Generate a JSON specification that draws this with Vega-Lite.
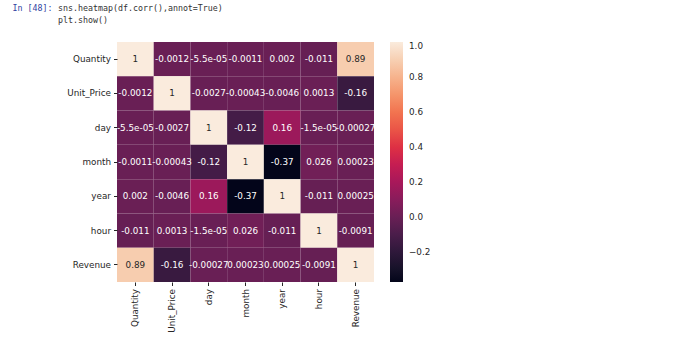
{
  "$schema": "https://vega.github.io/schema/vega-lite/v6.json",
  "autosize": "none",
  "width": 257,
  "height": 240,
  "padding": {"left": 117, "top": 42, "right": 306, "bottom": 57},
  "background": "white",
  "title": {
    "text": ["sns.heatmap(df.corr(),annot=True)", "plt.show()"],
    "anchor": "start",
    "frame": "group",
    "dx": -59,
    "dy": 21,
    "offset": 0,
    "font": "DejaVu Sans Mono",
    "fontSize": 8.3,
    "fontWeight": "normal",
    "color": "#333333",
    "lineHeight": 12
  },
  "config": {
    "view": {"stroke": null},
    "font": "DejaVu Sans"
  },
  "data": {
    "values": [
      {"row": "Quantity", "col": "Quantity", "v": 1, "label": "1"},
      {"row": "Quantity", "col": "Unit_Price", "v": -0.0012, "label": "-0.0012"},
      {"row": "Quantity", "col": "day", "v": -0.000055, "label": "-5.5e-05"},
      {"row": "Quantity", "col": "month", "v": -0.0011, "label": "-0.0011"},
      {"row": "Quantity", "col": "year", "v": 0.002, "label": "0.002"},
      {"row": "Quantity", "col": "hour", "v": -0.011, "label": "-0.011"},
      {"row": "Quantity", "col": "Revenue", "v": 0.89, "label": "0.89"},
      {"row": "Unit_Price", "col": "Quantity", "v": -0.0012, "label": "-0.0012"},
      {"row": "Unit_Price", "col": "Unit_Price", "v": 1, "label": "1"},
      {"row": "Unit_Price", "col": "day", "v": -0.0027, "label": "-0.0027"},
      {"row": "Unit_Price", "col": "month", "v": -0.00043, "label": "-0.00043"},
      {"row": "Unit_Price", "col": "year", "v": -0.0046, "label": "-0.0046"},
      {"row": "Unit_Price", "col": "hour", "v": 0.0013, "label": "0.0013"},
      {"row": "Unit_Price", "col": "Revenue", "v": -0.16, "label": "-0.16"},
      {"row": "day", "col": "Quantity", "v": -0.000055, "label": "-5.5e-05"},
      {"row": "day", "col": "Unit_Price", "v": -0.0027, "label": "-0.0027"},
      {"row": "day", "col": "day", "v": 1, "label": "1"},
      {"row": "day", "col": "month", "v": -0.12, "label": "-0.12"},
      {"row": "day", "col": "year", "v": 0.16, "label": "0.16"},
      {"row": "day", "col": "hour", "v": -0.000015, "label": "-1.5e-05"},
      {"row": "day", "col": "Revenue", "v": -0.00027, "label": "-0.00027"},
      {"row": "month", "col": "Quantity", "v": -0.0011, "label": "-0.0011"},
      {"row": "month", "col": "Unit_Price", "v": -0.00043, "label": "-0.00043"},
      {"row": "month", "col": "day", "v": -0.12, "label": "-0.12"},
      {"row": "month", "col": "month", "v": 1, "label": "1"},
      {"row": "month", "col": "year", "v": -0.37, "label": "-0.37"},
      {"row": "month", "col": "hour", "v": 0.026, "label": "0.026"},
      {"row": "month", "col": "Revenue", "v": 0.00023, "label": "0.00023"},
      {"row": "year", "col": "Quantity", "v": 0.002, "label": "0.002"},
      {"row": "year", "col": "Unit_Price", "v": -0.0046, "label": "-0.0046"},
      {"row": "year", "col": "day", "v": 0.16, "label": "0.16"},
      {"row": "year", "col": "month", "v": -0.37, "label": "-0.37"},
      {"row": "year", "col": "year", "v": 1, "label": "1"},
      {"row": "year", "col": "hour", "v": -0.011, "label": "-0.011"},
      {"row": "year", "col": "Revenue", "v": 0.00025, "label": "0.00025"},
      {"row": "hour", "col": "Quantity", "v": -0.011, "label": "-0.011"},
      {"row": "hour", "col": "Unit_Price", "v": 0.0013, "label": "0.0013"},
      {"row": "hour", "col": "day", "v": -0.000015, "label": "-1.5e-05"},
      {"row": "hour", "col": "month", "v": 0.026, "label": "0.026"},
      {"row": "hour", "col": "year", "v": -0.011, "label": "-0.011"},
      {"row": "hour", "col": "hour", "v": 1, "label": "1"},
      {"row": "hour", "col": "Revenue", "v": -0.0091, "label": "-0.0091"},
      {"row": "Revenue", "col": "Quantity", "v": 0.89, "label": "0.89"},
      {"row": "Revenue", "col": "Unit_Price", "v": -0.16, "label": "-0.16"},
      {"row": "Revenue", "col": "day", "v": -0.00027, "label": "-0.00027"},
      {"row": "Revenue", "col": "month", "v": 0.00023, "label": "0.00023"},
      {"row": "Revenue", "col": "year", "v": 0.00025, "label": "0.00025"},
      {"row": "Revenue", "col": "hour", "v": -0.0091, "label": "-0.0091"},
      {"row": "Revenue", "col": "Revenue", "v": 1, "label": "1"}
    ]
  },
  "encoding": {
    "x": {
      "field": "col", "type": "nominal",
      "sort": ["Quantity", "Unit_Price", "day", "month", "year", "hour", "Revenue"],
      "scale": {"paddingInner": 0, "paddingOuter": 0},
      "axis": {"title": null, "labelAngle": -90, "labelFontSize": 8.8, "labelColor": "#262626", "domain": false, "ticks": true, "tickSize": 3.5, "tickColor": "#262626", "labelPadding": 3}
    },
    "y": {
      "field": "row", "type": "nominal",
      "sort": ["Quantity", "Unit_Price", "day", "month", "year", "hour", "Revenue"],
      "scale": {"paddingInner": 0, "paddingOuter": 0},
      "axis": {
        "title": "In [48]:",
        "titleAngle": 0,
        "titleX": -105,
        "titleY": -34,
        "titleAlign": "left",
        "titleBaseline": "middle",
        "titleFont": "DejaVu Sans Mono",
        "titleFontSize": 8.3,
        "titleFontWeight": "normal",
        "titleColor": "#303F9F",
        "labelFontSize": 8.8, "labelColor": "#262626", "domain": false, "ticks": true, "tickSize": 3.5, "tickColor": "#262626", "labelPadding": 3}
    }
  },
  "layer": [
    {
      "mark": {"type": "rect"},
      "encoding": {
        "color": {
          "field": "v", "type": "quantitative",
          "scale": {
            "domain": [-0.37, -0.1743, 0.0214, 0.2171, 0.4129, 0.6086, 0.8043, 1.0],
            "range": ["#03051a", "#35193e", "#701f57", "#ad1759", "#e13342", "#f37651", "#f6b48f", "#faebdd"]
          },
          "legend": {
            "title": null,
            "direction": "vertical",
            "orient": "right",
            "offset": 16,
            "gradientLength": 240,
            "gradientThickness": 13,
            "gradientStrokeWidth": 0,
            "values": [-0.2, 0, 0.2, 0.4, 0.6, 0.8, 1.0],
            "format": ".1f",
            "labelFontSize": 8.8,
            "labelColor": "#262626",
            "labelOverlap": false,
            "labelOffset": 6
          }
        }
      }
    },
    {
      "mark": {"type": "text", "fontSize": 8.8},
      "encoding": {
        "text": {"field": "label"},
        "color": {"condition": {"test": "datum.v > 0.5", "value": "#262626"}, "value": "white"}
      }
    }
  ]
}
